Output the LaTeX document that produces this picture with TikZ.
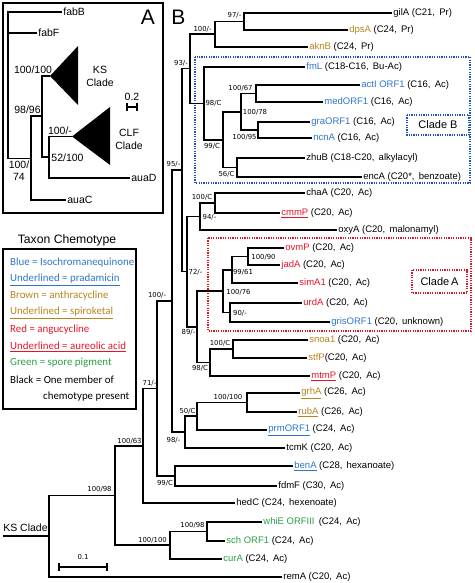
\documentclass[tikz,border=0pt]{standalone}
\usepackage{fontspec}
\setmainfont{Liberation Sans}
\newfontfamily\bsfont{DejaVu Sans}
\newfontfamily\legfont{Carlito}
\newcommand\myul[1]{\underline{#1}}
\definecolor{cblue}{RGB}{46,117,200}
\definecolor{cbrown}{RGB}{184,132,28}
\definecolor{cred}{RGB}{230,20,40}
\definecolor{cgreen}{RGB}{40,160,70}
\definecolor{boxblue}{RGB}{30,80,190}
\definecolor{boxred}{RGB}{220,20,40}
\tikzset{
  br/.style={line width=1.7pt},
  leaf/.style={anchor=west, inner sep=1.2pt, font=\fontsize{9.5}{11}\selectfont},
  bs/.style={inner sep=0pt, font=\bsfont\fontsize{6.9}{8}\selectfont},
  alab/.style={inner sep=0pt, font=\fontsize{10.5}{12}\selectfont},
  aleaf/.style={anchor=west, inner sep=1.2pt, font=\fontsize{10.5}{12}\selectfont},
  legline/.style={anchor=west, inner sep=0pt, font=\legfont\fontsize{10.9}{13}\selectfont},
  dotbox/.style={line width=1.2pt, dash pattern=on 1.2pt off 1.2pt},
  frame/.style={line width=2pt},
}
\begin{document}
\begin{tikzpicture}[x=1pt,y=-1pt]
\useasboundingbox (0,0) rectangle (474,583);
% ================= Panel A =================
\draw[frame] (3,3) rectangle (163,213);
\node[inner sep=0pt, font=\fontsize{21}{24}\selectfont] (labA) at (148,17) {A};
\coordinate (A0) at (8,158.5);
\coordinate (A74) at (31,158.5);
\coordinate (A96) at (42,116);
\coordinate (A52) at (49,157);
\coordinate (KSapex) at (50,76);
\coordinate (CLFapex) at (72,136.5);
\node[aleaf] (fabB) at (62,12) {fabB};
\node[aleaf] (fabF) at (37,33) {fabF};
\node[aleaf] (auaD) at (130,178) {auaD};
\node[aleaf] (auaC) at (66,200) {auaC};
\draw[br] (A0) |- (fabB.west);
\draw[br] (8,33) -- (fabF.west);
\draw[br] (A0) -- (A74);
\draw[br] (A74) |- (A96);
\draw[br] (A74) |- (auaC.west);
\draw[br] (A96) |- (KSapex);
\draw[br] (A96) |- (A52);
\draw[br] (A52) |- (CLFapex);
\draw[br] (A52) |- (auaD.west);
\fill (KSapex) -- (78,46) -- (78,105) -- cycle;
\fill (CLFapex) -- (110,107) -- (110,165) -- cycle;
\node[alab] (ksA) at (33,70) {100/100};
\node[alab] (ks1) at (100,70) {KS};
\node[alab] (ks2) at (100,83) {Clade};
\node[alab] (clf1) at (129,133) {CLF};
\node[alab] (clf2) at (129,146) {Clade};
\node[alab] (b9896) at (27.5,110) {98/96};
\node[alab] (b100m) at (60,131) {100/-};
\node[alab] (b52) at (67.5,158) {52/100};
\node[alab] (b74a) at (19,165) {100/};
\node[alab] (b74b) at (19,177) {74};
\node[alab] (sc02) at (132,97) {0.2};
\draw[line width=1.3pt] (127,107) -- (137,107);
\draw[line width=1.3pt] (127,103) -- (127,111);
\draw[line width=1.3pt] (137,103) -- (137,111);
% ================= Legend =================
\node[inner sep=0pt, font=\fontsize{12.2}{14}\selectfont] (legtitle) at (67,240) {Taxon Chemotype};
\draw[frame] (3,249) rectangle (136,409);
\node[legline, text=cblue] (l1) at (10,263) {Blue = Isochromanequinone};
\node[legline, text=cblue] (l2) at (10,280) {\myul{Underlined = pradamicin}};
\node[legline, text=cbrown] (l3) at (10,296) {Brown = anthracycline};
\node[legline, text=cbrown] (l4) at (10,313) {\myul{Underlined = spiroketal}};
\node[legline, text=cred] (l5) at (10,330) {Red = angucycline};
\node[legline, text=cred] (l6) at (10,347) {\myul{Underlined = aureolic acid}};
\node[legline, text=cgreen] (l7) at (10,363) {Green = spore pigment};
\node[legline] (l8) at (10,380) {Black = One member of};
\node[legline] (l9) at (43,397) {chemotype present};
% ================= Panel B =================
\node[inner sep=0pt, font=\fontsize{21}{24}\selectfont] (labB) at (178.5,17) {B};
% clade boxes
\draw[dotbox, boxblue] (195,57) rectangle (470,183);
\draw[dotbox, boxblue] (407,115) rectangle (469,135);
\node[inner sep=0pt, font=\fontsize{11}{13}\selectfont] (cladeB) at (438,125) {Clade B};
\draw[dotbox, boxred] (208,238) rectangle (471,331);
\draw[dotbox, boxred] (412,270) rectangle (467,293);
\node[inner sep=0pt, font=\fontsize{11}{13}\selectfont] (cladeA) at (439.5,281.5) {Clade\,A};
% internal nodes
\coordinate (n97) at (244,21.5);
\coordinate (n100a) at (215,34);
\coordinate (n93) at (190,68.5);
\coordinate (n98C) at (204,103.5);
\coordinate (n99C) at (223,140);
\coordinate (n10078) at (241,112);
\coordinate (n10067) at (256,93.5);
\coordinate (n10095) at (258,130);
\coordinate (n56) at (237,167.5);
\coordinate (n95) at (182,170);
\coordinate (n72) at (187,271.5);
\coordinate (n94) at (200,216.5);
\coordinate (n100C) at (215,203);
\coordinate (n89) at (197,327);
\coordinate (n10076) at (223,291);
\coordinate (n9961) at (232,269.8);
\coordinate (n10090) at (248,256.5);
\coordinate (n90) at (230,312.5);
\coordinate (n98Cb) at (210,362.5);
\coordinate (n100Cb) at (233,349);
\coordinate (n100m) at (172,301);
\coordinate (n98m) at (185,432);
\coordinate (n50C) at (197,416);
\coordinate (n100g) at (247,402.5);
\coordinate (n71) at (157,388.5);
\coordinate (n99Cb) at (175,476);
\coordinate (n10063) at (143,446);
\coordinate (n10098a) at (115,495.5);
\coordinate (n100c) at (170,545);
\coordinate (n10098b) at (207,531.5);
\coordinate (nroot) at (49,536);
\coordinate (rootstub) at (3,536);
% leaves
\node[leaf] (gilA) at (392,13) {gilA (C21, \,Pr)};
\node[leaf] (dpsA) at (348,30) {\textcolor{cbrown}{dpsA} (C24, \,Pr)};
\node[leaf] (aknB) at (308,47) {\textcolor{cbrown}{aknB} (C24, \,Pr)};
\node[leaf] (fmL) at (305,67) {\textcolor{cblue}{fmL} (C18-C16, \,Bu-Ac)};
\node[leaf] (actI) at (360,85) {\textcolor{cblue}{actI ORF1} (C16, \,Ac)};
\node[leaf] (med) at (323,102) {\textcolor{cblue}{medORF1} (C16, \,Ac)};
\node[leaf] (gra) at (310,122) {\textcolor{cblue}{graORF1} (C16, \,Ac)};
\node[leaf] (ncn) at (312,138) {\textcolor{cblue}{ncnA} (C16, \,Ac)};
\node[leaf] (zhuB) at (305,158) {zhuB (C18-C20, \,alkylacyl)};
\node[leaf] (encA) at (362,177) {encA (C20*, \,benzoate)};
\node[leaf] (chaA) at (305,193) {chaA (C20, \,Ac)};
\node[leaf] (cmmP) at (280,213) {{\color{cred}\myul{cmmP}} (C20, \,Ac)};
\node[leaf] (oxyA) at (337,230) {oxyA (C20, \,malonamyl)};
\node[leaf] (ovmP) at (284,248) {\textcolor{cred}{ovmP} (C20, \,Ac)};
\node[leaf] (jadA) at (280,265) {\textcolor{cred}{jadA} (C20, \,Ac)};
\node[leaf] (simA) at (298,283) {\textcolor{cred}{simA1} (C20, \,Ac)};
\node[leaf] (urdA) at (302,303) {\textcolor{cred}{urdA} (C20, \,Ac)};
\node[leaf] (gris) at (330,322) {\textcolor{cblue}{grisORF1} (C20, \,unknown)};
\node[leaf] (snoa) at (308,340) {\textcolor{cbrown}{snoa1} (C20, \,Ac)};
\node[leaf] (stfP) at (307,358) {\textcolor{cbrown}{stfP}(C20, \,Ac)};
\node[leaf] (mtmP) at (310,376) {{\color{cred}\myul{mtmP}} (C20, \,Ac)};
\node[leaf] (grhA) at (300,393) {{\color{cbrown}\myul{grhA}} (C26, \,Ac)};
\node[leaf] (rubA) at (297,412) {{\color{cbrown}\myul{rubA}} (C26, \,Ac)};
\node[leaf] (prm) at (267,430) {{\color{cblue}\myul{prmORF1}} (C24, \,Ac)};
\node[leaf] (tcmK) at (285,448) {tcmK (C20, \,Ac)};
\node[leaf] (benA) at (293,466) {{\color{cblue}\myul{benA}} (C28, \,hexanoate)};
\node[leaf] (fdmF) at (277,486) {fdmF (C30, \,Ac)};
\node[leaf] (hedC) at (235,503) {hedC (C24, \,hexenoate)};
\node[leaf] (whiE) at (262,522) {\textcolor{cgreen}{whiE ORFIII} \,(C24, \,Ac)};
\node[leaf] (sch) at (225,541) {\textcolor{cgreen}{sch ORF1} (C24, \,Ac)};
\node[leaf] (curA) at (222,559) {\textcolor{cgreen}{curA} (C24, \,Ac)};
\node[leaf] (remA) at (282,577) {remA (C20, \,Ac)};
% branches
\draw[br] (n97) |- (gilA.west);
\draw[br] (n97) |- (dpsA.west);
\draw[br] (n100a) |- (n97);
\draw[br] (n100a) |- (aknB.west);
\draw[br] (n93) |- (n100a);
\draw[br] (n93) |- (n98C);
\draw[br] (n98C) |- (fmL.west);
\draw[br] (n98C) |- (n99C);
\draw[br] (n99C) |- (n10078);
\draw[br] (n99C) |- (n56);
\draw[br] (n10078) |- (n10067);
\draw[br] (n10078) |- (n10095);
\draw[br] (n10067) |- (actI.west);
\draw[br] (n10067) |- (med.west);
\draw[br] (n10095) |- (gra.west);
\draw[br] (n10095) |- (ncn.west);
\draw[br] (n56) |- (zhuB.west);
\draw[br] (n56) |- (encA.west);
\draw[br] (n95) |- (n93);
\draw[br] (n95) |- (n72);
\draw[br] (n72) |- (n94);
\draw[br] (n72) |- (n89);
\draw[br] (n94) |- (n100C);
\draw[br] (n94) |- (oxyA.west);
\draw[br] (n100C) |- (chaA.west);
\draw[br] (n100C) |- (cmmP.west);
\draw[br] (n89) |- (n10076);
\draw[br] (n89) |- (n98Cb);
\draw[br] (n10076) |- (n9961);
\draw[br] (n10076) |- (n90);
\draw[br] (n9961) |- (n10090);
\draw[br] (n9961) |- (simA.west);
\draw[br] (n10090) |- (ovmP.west);
\draw[br] (n10090) |- (jadA.west);
\draw[br] (n90) |- (urdA.west);
\draw[br] (n90) |- (gris.west);
\draw[br] (n98Cb) |- (n100Cb);
\draw[br] (n98Cb) |- (mtmP.west);
\draw[br] (n100Cb) |- (snoa.west);
\draw[br] (n100Cb) |- (stfP.west);
\draw[br] (n100m) |- (n95);
\draw[br] (n100m) |- (n98m);
\draw[br] (n98m) |- (n50C);
\draw[br] (n98m) |- (tcmK.west);
\draw[br] (n50C) |- (n100g);
\draw[br] (n50C) |- (prm.west);
\draw[br] (n100g) |- (grhA.west);
\draw[br] (n100g) |- (rubA.west);
\draw[br] (n71) |- (n100m);
\draw[br] (n71) |- (n99Cb);
\draw[br] (n99Cb) |- (benA.west);
\draw[br] (n99Cb) |- (fdmF.west);
\draw[br] (n10063) |- (n71);
\draw[br] (n10063) |- (hedC.west);
\draw[br] (n10098a) |- (n10063);
\draw[br] (n10098a) |- (n100c);
\draw[br] (n100c) |- (n10098b);
\draw[br] (n100c) |- (curA.west);
\draw[br] (n10098b) |- (whiE.west);
\draw[br] (n10098b) |- (sch.west);
\draw[br] (nroot) |- (n10098a);
\draw[br] (nroot) |- (remA.west);
\draw[br] (rootstub) -- (nroot);
\node[inner sep=0pt, font=\fontsize{10.5}{12}\selectfont] (ksclade) at (25.5,528) {KS Clade};
% bootstrap labels
\node[bs] (b1) at (234.5,15) {97/-};
\node[bs] (b2) at (202.5,29) {100/-};
\node[bs] (b3) at (181,63) {93/-};
\node[bs] (b4) at (240.5,88) {100/67};
\node[bs] (b5) at (213.5,103) {98/C};
\node[bs] (b6) at (255,112) {100/78};
\node[bs] (b7) at (244.5,137) {100/95};
\node[bs] (b8) at (212,146) {99/C};
\node[bs] (b9) at (226.5,174) {56/C};
\node[bs] (b10) at (173.5,164) {95/-};
\node[bs] (b11) at (202,197) {100/C};
\node[bs] (b12) at (209.5,217) {94/-};
\node[bs] (b13) at (263.5,257) {100/90};
\node[bs] (b14) at (243,272) {99/61};
\node[bs] (b15) at (195.5,272) {72/-};
\node[bs] (b16) at (238.5,292) {100/76};
\node[bs] (b17) at (240,313) {90/-};
\node[bs] (b18) at (188.5,332) {89/-};
\node[bs] (b19) at (220,343) {100/C};
\node[bs] (b20) at (200,368) {98/C};
\node[bs] (b21) at (157,295) {100/-};
\node[bs] (b22) at (149.5,383) {71/-};
\node[bs] (b23) at (228,397) {100/100};
\node[bs] (b24) at (187.5,411) {50/C};
\node[bs] (b25) at (173.5,440) {98/-};
\node[bs] (b26) at (129.5,441) {100/63};
\node[bs] (b27) at (165,483) {99/C};
\node[bs] (b28) at (99.5,489) {100/98};
\node[bs] (b29) at (192.5,525) {100/98};
\node[bs] (b30) at (152.5,540) {100/100};
% scale bar
\node[bs] (sc01) at (83,557) {0.1};
\draw[line width=1.3pt] (59,567) -- (107,567);
\draw[line width=1.3pt] (59,563) -- (59,571);
\draw[line width=1.3pt] (107,563) -- (107,571);
\end{tikzpicture}
\end{document}
